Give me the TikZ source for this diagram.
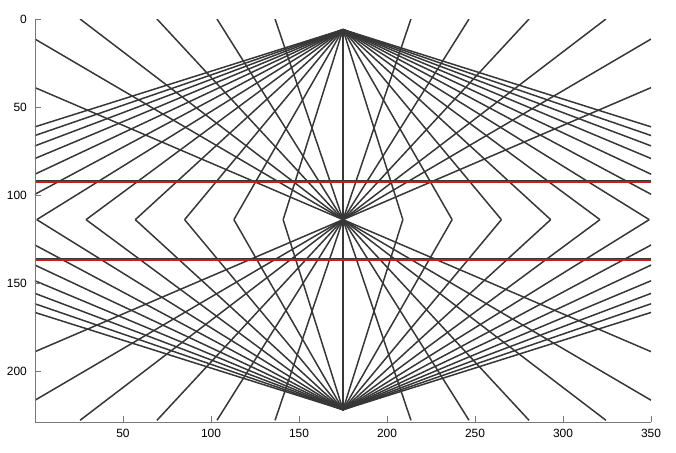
\documentclass[tikz,border=0pt]{standalone}
\usepackage{fontspec}
\setmainfont{Liberation Sans}
\begin{document}
\begin{tikzpicture}[x=1.76bp,y=-1.76bp]
\definecolor{lc}{RGB}{55,55,55}
\definecolor{ax}{RGB}{120,120,120}
\definecolor{rl}{RGB}{205,25,30}
\tikzset{ln/.style={draw=lc,line width=1.5bp},
  axl/.style={draw=ax,line width=0.8bp},
  tlab/.style={font=\fontsize{12}{12}\selectfont,text=black,inner sep=0pt}}
\useasboundingbox (-19.886,-10.795) rectangle (364.205,246.023);
\coordinate (T) at (175,6);
\coordinate (C) at (175,114);
\coordinate (B) at (175,222);
\begin{scope}
\clip (0,0) rectangle (350,229);
% vertical
\draw[ln] (T) -- (B);
% top and bottom fans
\foreach \k in {1,...,12}{
  \pgfmathsetmacro{\d}{34+28*(\k-1)}
  \draw[ln] (T) -- (175-\d,114);
  \draw[ln] (T) -- (175+\d,114);
  \draw[ln] (B) -- (175-\d,114);
  \draw[ln] (B) -- (175+\d,114);
}
% center fan
\foreach \px/\py in {25.6/0,69.3/0,103.4/0,136.4/0,0/11.4,0/39}{
  \draw[ln] (C) -- (\px,\py);
  \draw[ln] (C) -- (350-\px,\py);
  \draw[ln] (C) -- (\px,228-\py);
  \draw[ln] (C) -- (350-\px,228-\py);
}
\end{scope}
% red lines
\draw[lc,line width=0.9bp] (0,92.0) -- (350,92.0);
\draw[lc,line width=0.9bp] (0,136.3) -- (350,136.3);
\draw[rl,line width=1.3bp] (0,92.6) -- (350,92.6);
\draw[rl,line width=1.3bp] (0,136.9) -- (350,136.9);
% axes
\draw[axl] (0,0) -- (0,229) -- (350,229);
\foreach \v in {0,50,100,150,200}{
  \draw[axl] (0,\v) -- (3.4,\v);
  \node[tlab,anchor=east] (yl\v) at (-4.5,\v) {\v};
}
\foreach \v in {50,100,...,350}{
  \draw[axl] (\v,229) -- (\v,225.6);
  \node[tlab,anchor=north] (xl\v) at (\v,233) {\v};
}
\end{tikzpicture}
\end{document}
